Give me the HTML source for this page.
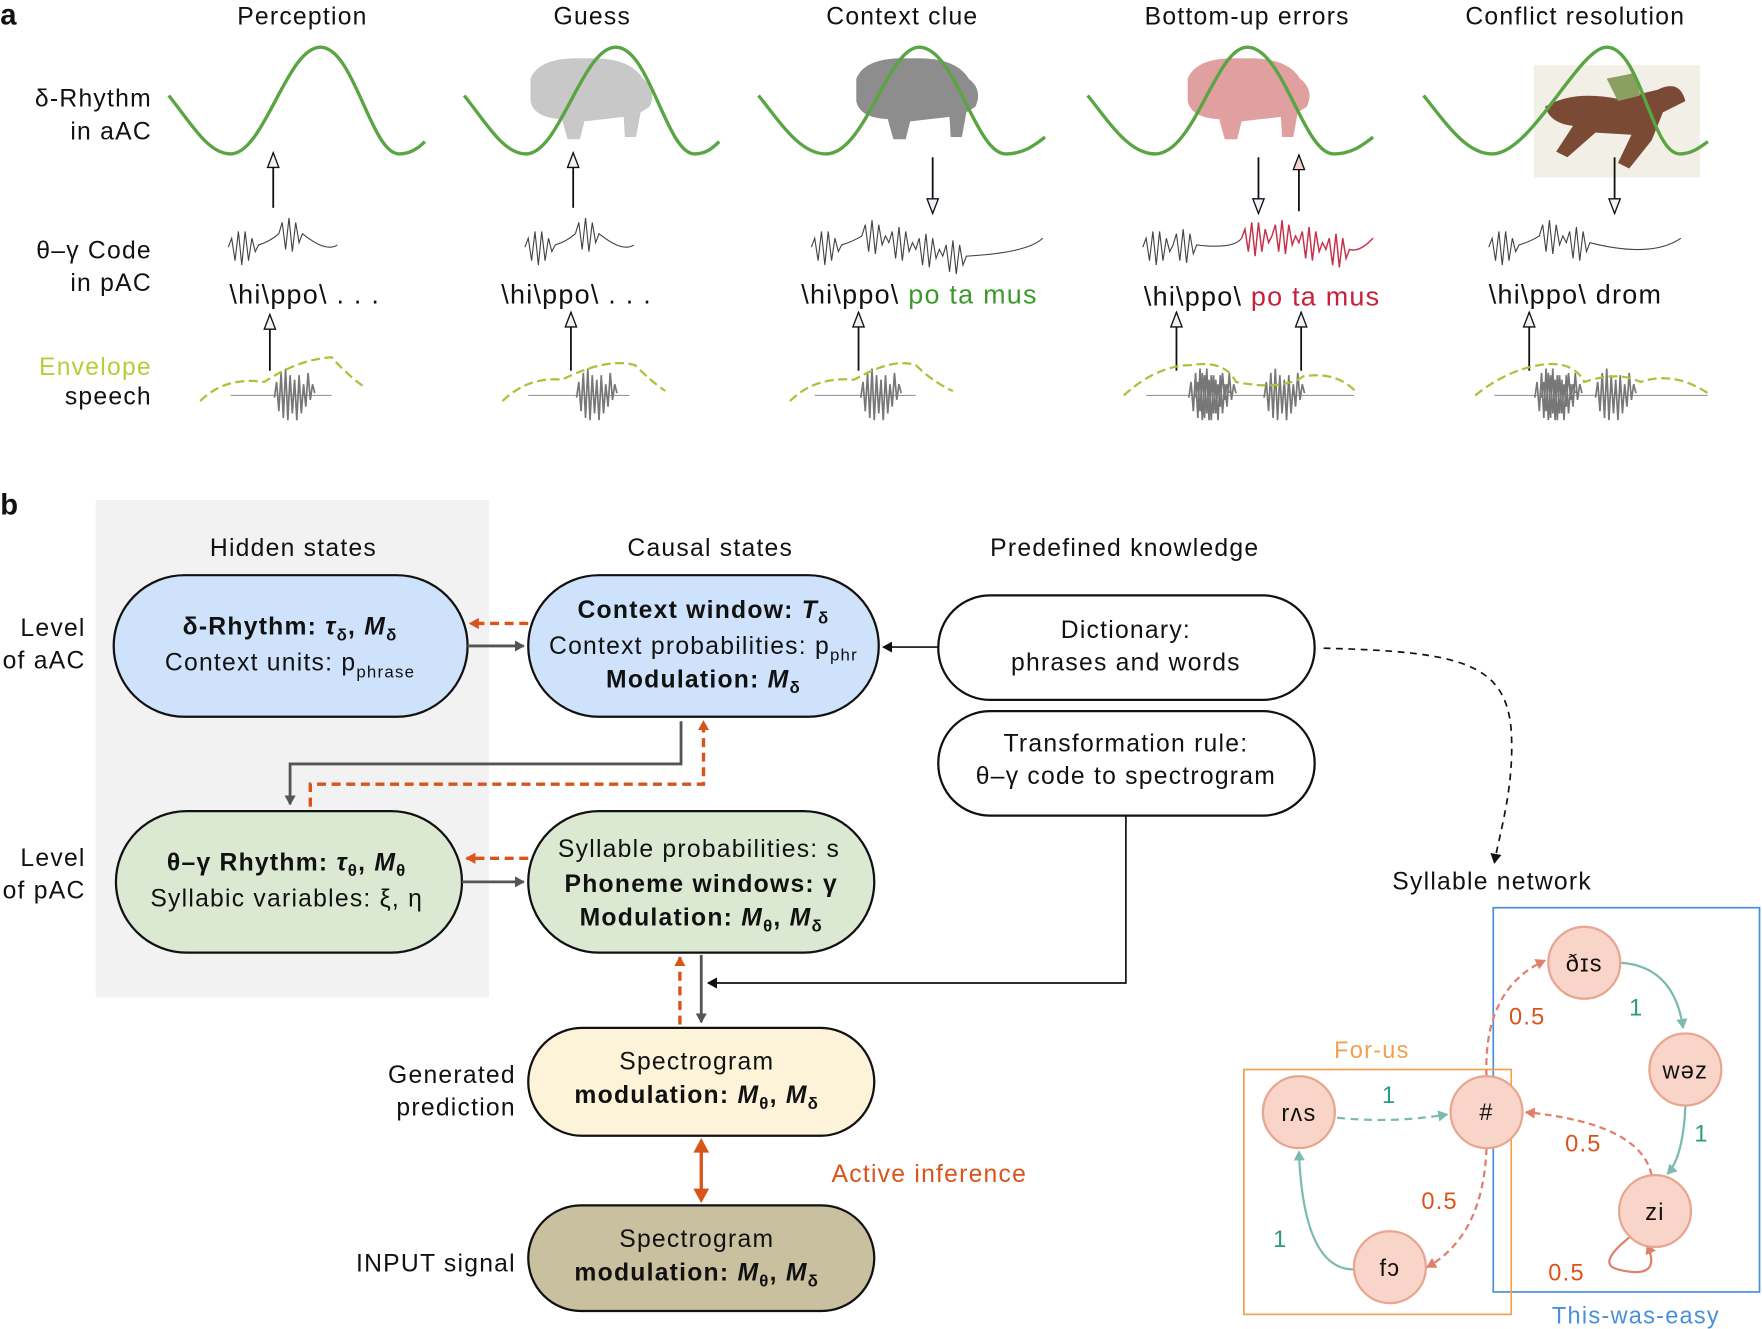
<!DOCTYPE html>
<html><head><meta charset="utf-8"><style>
html,body{margin:0;padding:0;background:#fff}
svg{display:block}
text{font-family:"Liberation Sans","DejaVu Sans",sans-serif;fill:#111;letter-spacing:1.1px}
</style></head><body>
<svg width="1762" height="1329" viewBox="0 0 1568 1183" xmlns="http://www.w3.org/2000/svg">
<defs>
<marker id="ah" markerWidth="10" markerHeight="10" refX="8" refY="5" orient="auto" markerUnits="userSpaceOnUse"><path d="M0,0 L9,5 L0,10 Z" fill="#555"/></marker>
<marker id="ahk" markerWidth="10" markerHeight="10" refX="8" refY="5" orient="auto" markerUnits="userSpaceOnUse"><path d="M0,0 L9,5 L0,10 Z" fill="#111"/></marker>
<marker id="aho" markerWidth="10" markerHeight="10" refX="8" refY="5" orient="auto" markerUnits="userSpaceOnUse"><path d="M0,0 L9,5 L0,10 Z" fill="#d9541a"/></marker>
<marker id="aht" markerWidth="10" markerHeight="10" refX="8" refY="5" orient="auto" markerUnits="userSpaceOnUse"><path d="M0,0 L9,5 L0,10 Z" fill="#7bbab0"/></marker>
<marker id="ahp" markerWidth="10" markerHeight="10" refX="8" refY="5" orient="auto" markerUnits="userSpaceOnUse"><path d="M0,0 L9,5 L0,10 Z" fill="#e0806a"/></marker>
<marker id="up" markerWidth="16" markerHeight="14" refX="14" refY="6" orient="auto" markerUnits="userSpaceOnUse"><path d="M1,1 L14,6 L1,11 Z" fill="#eef3fa" stroke="#111" stroke-width="1.2"/></marker>
<marker id="upp" markerWidth="16" markerHeight="14" refX="14" refY="6" orient="auto" markerUnits="userSpaceOnUse"><path d="M1,1 L14,6 L1,11 Z" fill="#f6d0cf" stroke="#111" stroke-width="1.2"/></marker>
<g id="burst"><path d="M0,0 l2,-14 l2,26 l2,-34 l2,40 l2,-44 l2,46 l2,-40 l2,34 l2,-30 l2,36 l2,-40 l2,34 l2,-26 l2,20 l2,-30 l2,24 l2,-14 l2,8" fill="none" stroke="#777" stroke-width="1.5"/></g>
</defs>

<!-- Part a -->
<text x="0" y="22" font-size="26" font-weight="bold">a</text>
<g font-size="22" text-anchor="middle">
<text x="269" y="22">Perception</text><text x="527" y="22">Guess</text><text x="803" y="22">Context clue</text><text x="1110" y="22">Bottom-up errors</text><text x="1402" y="22">Conflict resolution</text>
</g>
<g font-size="22" text-anchor="end">
<text x="135" y="95">δ-Rhythm</text><text x="135" y="124">in aAC</text>
<text x="135" y="230">θ–γ Code</text><text x="135" y="259">in pAC</text>
<text x="135" y="334" style="fill:#b5cf3a">Envelope</text><text x="135" y="360">speech</text>
</g>

<!-- hippo/horse images -->
<g>
<path d="M472,70 Q480,50 520,52 Q560,50 572,70 Q585,80 578,95 L570,100 L566,122 L556,122 L555,104 L520,108 L516,124 L505,124 L500,106 Q475,105 472,90 Z" fill="#c8c8c8"/>
<path d="M762,70 Q770,50 810,52 Q850,50 862,70 Q875,80 868,95 L860,100 L856,122 L846,122 L845,104 L810,108 L806,124 L795,124 L790,106 Q765,105 762,90 Z" fill="#8d8d8d"/>
<path d="M1057,70 Q1065,50 1105,52 Q1145,50 1157,70 Q1170,80 1163,95 L1155,100 L1151,122 L1141,122 L1140,104 L1105,108 L1101,124 L1090,124 L1085,106 Q1060,105 1057,90 Z" fill="#e0a0a0"/>
<rect x="1365" y="58" width="148" height="100" fill="#f2efe6"/>
<path d="M1375,95 Q1400,80 1440,88 L1475,80 Q1495,70 1500,90 L1480,100 L1470,125 L1450,150 L1440,145 L1452,120 L1420,118 L1395,140 L1385,135 L1400,112 Q1380,110 1375,95 Z" fill="#7a4a35"/>
<path d="M1430,70 L1455,65 L1460,85 L1440,90 Z" fill="#8aa060"/>
</g>

<!-- waves -->
<g fill="none" stroke="#5aa543" stroke-width="3">
<path d="M150,85 C170,110 185,137 205,137 C235,137 255,42 285,42 C315,42 330,137 355,137 C365,137 372,132 378,126"/>
<path d="M413,85 C433,110 448,137 468,137 C498,137 518,42 548,42 C578,42 593,137 618,137 C628,137 634,132 640,126"/>
<path d="M675,85 C695,110 712,137 735,137 C770,137 790,42 818,42 C850,42 868,137 895,137 C910,137 920,130 930,122"/>
<path d="M968,85 C988,110 1005,137 1028,137 C1063,137 1082,42 1110,42 C1142,42 1160,137 1187,137 C1202,137 1212,130 1222,122"/>
<path d="M1267,85 C1287,110 1305,137 1328,137 C1363,137 1405,42 1430,42 C1460,42 1470,137 1495,137 C1505,137 1512,132 1520,126"/>
</g>

<!-- arrows a -->
<g stroke="#111" stroke-width="1.6">
<line x1="243" y1="185" x2="243" y2="136" marker-end="url(#up)"/>
<line x1="510" y1="185" x2="510" y2="136" marker-end="url(#up)"/>
<line x1="830" y1="140" x2="830" y2="190" marker-end="url(#up)"/>
<line x1="1120" y1="140" x2="1120" y2="190" marker-end="url(#up)"/>
<line x1="1156" y1="188" x2="1156" y2="138" marker-end="url(#upp)"/>
<line x1="1437" y1="140" x2="1437" y2="190" marker-end="url(#up)"/>
<line x1="240" y1="330" x2="240" y2="280" marker-end="url(#up)"/>
<line x1="508" y1="330" x2="508" y2="278" marker-end="url(#up)"/>
<line x1="764" y1="330" x2="764" y2="278" marker-end="url(#up)"/>
<line x1="1047" y1="330" x2="1047" y2="278" marker-end="url(#up)"/>
<line x1="1158" y1="330" x2="1158" y2="278" marker-end="url(#up)"/>
<line x1="1361" y1="330" x2="1361" y2="278" marker-end="url(#up)"/>
</g>

<!-- theta-gamma wavelets -->
<g fill="none" stroke="#444" stroke-width="1">
<path d="M203,220 l3,-8 l3,20 l3,-26 l3,30 l3,-30 l3,26 l3,-20 l3,12 l3,-6 Q240,215 248,208 M248,208 l3,-10 l3,24 l3,-28 l3,30 l3,-26 l3,18 l3,-8 Q290,225 300,218"/>
<path d="M467,220 l3,-8 l3,20 l3,-26 l3,30 l3,-30 l3,26 l3,-20 l3,12 l3,-6 Q504,215 512,208 M512,208 l3,-10 l3,24 l3,-28 l3,30 l3,-26 l3,18 l3,-8 Q554,225 564,218"/>
<path d="M722,220 l3,-8 l3,20 l3,-26 l3,30 l3,-30 l3,26 l3,-20 l3,12 l3,-6 Q759,215 767,210 l3,-10 l3,24 l3,-28 l3,30 l3,-26 l3,18 l3,-8 l3,6 l3,-10 l3,24 l3,-28 l3,30 l3,-26 l3,18 l3,-8 l3,6 l3,-10 l3,24 l3,-28 l3,30 l3,-26 l3,18 l3,-8 l3,6 l3,-10 l3,24 l3,-28 l3,30 l3,-26 l3,18 l3,-8 Q915,225 928,212"/>
<path d="M1017,220 l3,-8 l3,20 l3,-26 l3,30 l3,-30 l3,26 l3,-20 l3,12 l3,-6 l3,-10 l3,24 l3,-28 l3,30 l3,-26 l3,18 l3,-8 Q1098,222 1105,212"/>
<path d="M1325,220 l3,-8 l3,20 l3,-26 l3,30 l3,-30 l3,26 l3,-20 l3,12 l3,-6 Q1362,215 1370,210 l3,-10 l3,24 l3,-28 l3,30 l3,-26 l3,18 l3,-8 l3,6 l3,-10 l3,24 l3,-28 l3,30 l3,-26 l3,18 l3,-8 Q1470,230 1496,212"/>
</g>
<path d="M1105,212 l3,-8 l3,20 l3,-26 l3,30 l3,-30 l3,26 l3,-20 l3,12 l3,-6 l3,-10 l3,24 l3,-28 l3,30 l3,-26 l3,18 l3,-8 l3,6 l3,-10 l3,24 l3,-28 l3,30 l3,-26 l3,18 l3,-8 l3,6 l3,-10 l3,24 l3,-28 l3,30 l3,-26 l3,18 l3,-8 Q1210,225 1222,212" fill="none" stroke="#c8304a" stroke-width="1.3"/>

<g font-size="24">
<text x="204" y="270">\hi\ppo\ . . .</text>
<text x="446" y="270">\hi\ppo\ . . .</text>
<text x="713" y="270">\hi\ppo\ <tspan style="fill:#3c9a2c">po ta  mus</tspan></text>
<text x="1018" y="272">\hi\ppo\ <tspan style="fill:#c8203a">po ta mus</tspan></text>
<text x="1325" y="270">\hi\ppo\ drom</text>
</g>

<!-- speech waveforms -->
<g stroke="#999" stroke-width="1">
<line x1="205" y1="352" x2="295" y2="352"/><line x1="470" y1="352" x2="560" y2="352"/>
<line x1="725" y1="352" x2="815" y2="352"/><line x1="1020" y1="352" x2="1205" y2="352"/>
<line x1="1330" y1="352" x2="1520" y2="352"/>
</g>
<use href="#burst" x="244" y="354"/><use href="#burst" x="513" y="354"/><use href="#burst" x="766" y="354"/>
<use href="#burst" x="1058" y="354"/><use href="#burst" x="1064" y="354"/>
<use href="#burst" x="1125" y="354"/>
<use href="#burst" x="1366" y="354"/><use href="#burst" x="1372" y="354"/><use href="#burst" x="1420" y="354"/>
<g fill="none" stroke="#a8c43a" stroke-width="2" stroke-dasharray="8,4">
<path d="M178,357 Q200,335 235,340 Q265,320 295,318 Q310,335 325,345"/>
<path d="M447,357 Q470,335 500,338 Q540,318 565,325 Q580,340 592,348"/>
<path d="M703,357 Q725,335 760,338 Q795,318 815,325 Q830,340 848,348"/>
<path d="M1000,352 Q1030,325 1060,325 Q1090,320 1100,340 Q1140,348 1160,335 Q1190,330 1208,350"/>
<path d="M1313,352 Q1340,330 1370,325 Q1400,320 1410,340 Q1440,330 1460,340 Q1490,330 1520,350"/>
</g>

<!-- Part b -->
<text x="0" y="458" font-size="26" font-weight="bold">b</text>
<rect x="85" y="445" width="350" height="443" fill="#f2f2f2"/>
<g font-size="22" text-anchor="middle">
<text x="261" y="495">Hidden states</text>
<text x="632" y="495">Causal states</text>
<text x="1001" y="495">Predefined knowledge</text>
<text x="47" y="566">Level</text><text x="39" y="595">of aAC</text>
<text x="47" y="771">Level</text><text x="39" y="800">of pAC</text>
<text x="1328" y="792">Syllable network</text>
</g>
<g font-size="22" text-anchor="end">
<text x="459" y="964">Generated</text><text x="459" y="993">prediction</text>
<text x="459" y="1132">INPUT signal</text>
</g>
<text x="740" y="1052" font-size="22" style="fill:#d9541a">Active inference</text>

<!-- nodes -->
<g stroke="#111" stroke-width="2">
<rect x="101" y="512" width="315" height="126" rx="63" fill="#cfe2fb"/>
<rect x="470" y="512" width="312" height="126" rx="63" fill="#cfe2fb"/>
<rect x="835" y="530" width="335" height="93" rx="46" fill="#fff"/>
<rect x="835" y="633" width="335" height="93" rx="46" fill="#fff"/>
<rect x="103" y="722" width="308" height="126" rx="63" fill="#dbe9d2"/>
<rect x="470" y="722" width="308" height="126" rx="63" fill="#dbe9d2"/>
<rect x="470" y="915" width="308" height="96" rx="48" fill="#fdf3d9"/>
<rect x="470" y="1073" width="308" height="94" rx="47" fill="#c9c0a0"/>
</g>
<g font-size="22" text-anchor="middle">
<text x="258" y="565" font-weight="bold">δ-Rhythm: <tspan font-style="italic">τ</tspan><tspan font-size="15" dy="5">δ</tspan><tspan dy="-5">, </tspan><tspan font-style="italic">M</tspan><tspan font-size="15" dy="5">δ</tspan></text>
<text x="258" y="597">Context units: p<tspan font-size="15" dy="6">phrase</tspan></text>
<text x="626" y="550" font-weight="bold">Context window: <tspan font-style="italic">T</tspan><tspan font-size="15" dy="5">δ</tspan></text>
<text x="626" y="582">Context probabilities: p<tspan font-size="15" dy="6">phr</tspan></text>
<text x="626" y="612" font-weight="bold">Modulation: <tspan font-style="italic">M</tspan><tspan font-size="15" dy="5">δ</tspan></text>
<text x="1002" y="568">Dictionary:</text><text x="1002" y="597">phrases and words</text>
<text x="1002" y="669">Transformation rule:</text><text x="1002" y="698">θ–γ code to spectrogram</text>
<text x="255" y="775" font-weight="bold">θ–γ Rhythm: <tspan font-style="italic">τ</tspan><tspan font-size="15" dy="5">θ</tspan><tspan dy="-5">, </tspan><tspan font-style="italic">M</tspan><tspan font-size="15" dy="5">θ</tspan></text>
<text x="255" y="807">Syllabic variables: ξ, η</text>
<text x="622" y="763">Syllable probabilities: s</text>
<text x="624" y="794" font-weight="bold">Phoneme windows: γ</text>
<text x="624" y="824" font-weight="bold">Modulation: <tspan font-style="italic">M</tspan><tspan font-size="15" dy="5">θ</tspan><tspan dy="-5">, </tspan><tspan font-style="italic">M</tspan><tspan font-size="15" dy="5">δ</tspan></text>
<text x="620" y="952">Spectrogram</text>
<text x="620" y="982" font-weight="bold">modulation: <tspan font-style="italic">M</tspan><tspan font-size="15" dy="5">θ</tspan><tspan dy="-5">, </tspan><tspan font-style="italic">M</tspan><tspan font-size="15" dy="5">δ</tspan></text>
<text x="620" y="1110">Spectrogram</text>
<text x="620" y="1140" font-weight="bold">modulation: <tspan font-style="italic">M</tspan><tspan font-size="15" dy="5">θ</tspan><tspan dy="-5">, </tspan><tspan font-style="italic">M</tspan><tspan font-size="15" dy="5">δ</tspan></text>
</g>

<!-- connectors -->
<g fill="none" stroke="#555" stroke-width="2.5">
<line x1="416" y1="575" x2="466" y2="575" marker-end="url(#ah)"/>
<line x1="411" y1="785" x2="466" y2="785" marker-end="url(#ah)"/>
<path d="M606,642 V680 H258 V716" marker-end="url(#ah)"/>
<line x1="624" y1="850" x2="624" y2="910" marker-end="url(#ah)"/>
</g>
<g fill="none" stroke="#111" stroke-width="1.5">
<line x1="835" y1="576" x2="786" y2="576" marker-end="url(#ahk)"/>
<path d="M1002,726 V875 H630" marker-end="url(#ahk)"/>
<path d="M1178,577 C1300,580 1340,590 1345,650 C1348,700 1335,740 1330,768" stroke-dasharray="6,5" marker-end="url(#ahk)"/>
</g>
<g fill="none" stroke="#d9541a" stroke-width="3" stroke-dasharray="8,5">
<line x1="470" y1="555" x2="418" y2="555" marker-end="url(#aho)"/>
<line x1="470" y1="764" x2="415" y2="764" marker-end="url(#aho)"/>
<path d="M276,718 V698 H626 V642" marker-end="url(#aho)"/>
<line x1="605" y1="912" x2="605" y2="852" marker-end="url(#aho)"/>
</g>
<g stroke="#d9541a" stroke-width="3">
<line x1="624" y1="1022" x2="624" y2="1062"/>
<path d="M617,1026 L624,1013 L631,1026 Z M617,1058 L624,1071 L631,1058 Z" fill="#d9541a" stroke="none"/>
</g>

<!-- syllable network -->
<rect x="1329" y="808" width="237" height="342" fill="none" stroke="#4a90d9" stroke-width="1.5"/>
<rect x="1107" y="952" width="238" height="218" fill="none" stroke="#f0a050" stroke-width="1.5"/>
<text x="1221" y="942" font-size="21" text-anchor="middle" style="fill:#f0a050">For-us</text>
<text x="1456" y="1178" font-size="21" text-anchor="middle" style="fill:#4a90d9">This-was-easy</text>
<g fill="none" stroke-width="2">
<path d="M1442,857 Q1490,860 1498,915" stroke="#7bbab0" marker-end="url(#aht)"/>
<path d="M1500,985 Q1498,1030 1484,1045" stroke="#7bbab0" marker-end="url(#aht)"/>
<path d="M1190,995 Q1240,1000 1288,992" stroke="#7bbab0" stroke-dasharray="7,5" marker-end="url(#aht)"/>
<path d="M1205,1130 Q1160,1130 1156,1025" stroke="#7bbab0" marker-end="url(#aht)"/>
<path d="M1323,958 Q1320,880 1375,855" stroke="#e0806a" stroke-dasharray="6,4" marker-end="url(#ahp)"/>
<path d="M1470,1046 Q1460,1000 1358,990" stroke="#e0806a" stroke-dasharray="6,4" marker-end="url(#ahp)"/>
<path d="M1323,1022 Q1320,1100 1270,1128" stroke="#e0806a" stroke-dasharray="6,4" marker-end="url(#ahp)"/>
<path d="M1452,1100 Q1420,1125 1440,1130 Q1480,1140 1466,1108" stroke="#e0806a" marker-end="url(#ahp)"/>
</g>
<g fill="#f8d5c8" stroke="#e8a690" stroke-width="2">
<circle cx="1410" cy="857" r="32"/><circle cx="1500" cy="952" r="32"/><circle cx="1473" cy="1078" r="32"/>
<circle cx="1323" cy="990" r="32"/><circle cx="1156" cy="990" r="32"/><circle cx="1237" cy="1128" r="32"/>
</g>
<g font-size="21" text-anchor="middle">
<text x="1410" y="865">ðɪs</text><text x="1500" y="960">wəz</text><text x="1473" y="1086">zi</text>
<text x="1323" y="997">#</text><text x="1156" y="998">rʌs</text><text x="1237" y="1136">fɔ</text>
</g>
<g font-size="21">
<text x="1450" y="904" style="fill:#2a9a80">1</text><text x="1508" y="1016" style="fill:#2a9a80">1</text>
<text x="1230" y="982" style="fill:#2a9a80">1</text><text x="1133" y="1110" style="fill:#2a9a80">1</text>
</g>
<g font-size="21">
<text x="1343" y="912" style="fill:#d9541a">0.5</text><text x="1393" y="1025" style="fill:#d9541a">0.5</text>
<text x="1265" y="1076" style="fill:#d9541a">0.5</text><text x="1378" y="1140" style="fill:#d9541a">0.5</text>
</g>
</svg>
</body></html>
